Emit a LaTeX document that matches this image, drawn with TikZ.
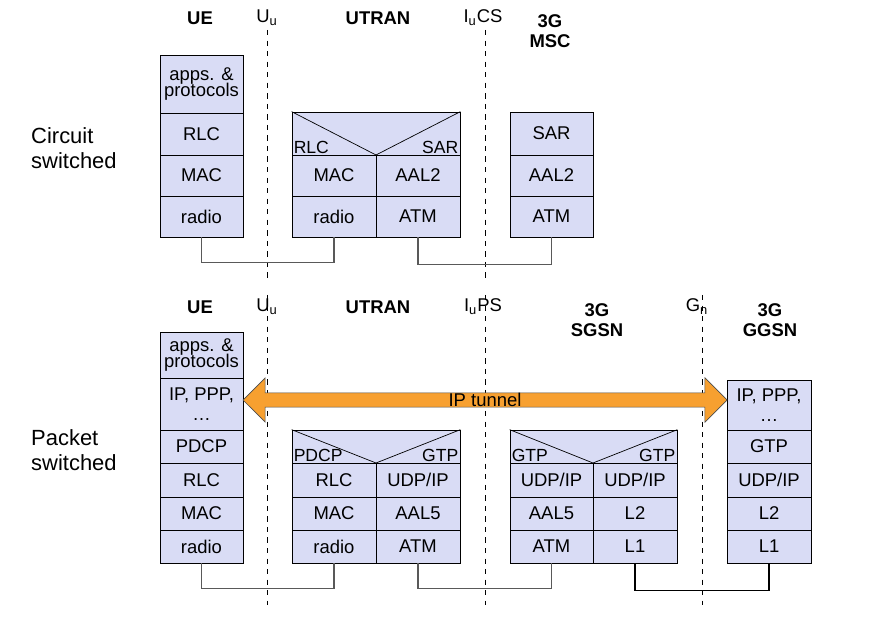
\documentclass[tikz,border=0pt]{standalone}
\usepackage{fontspec}
\setmainfont{Liberation Sans}
\usetikzlibrary{arrows.meta,shapes.arrows}
\definecolor{stackfill}{RGB}{217,220,245}
\definecolor{tunnel}{RGB}{247,160,48}
\tikzset{
  cell/.style={draw,fill=stackfill,inner sep=0pt,font=\fontsize{10.5}{11}\selectfont,align=center},
  head/.style={font=\fontsize{10.5}{11}\selectfont\bfseries,align=center},
  iface/.style={font=\fontsize{10.5}{11}\selectfont},
  side/.style={font=\fontsize{12.5}{14}\selectfont,align=left,anchor=west},
  sub/.style={font=\fontsize{10}{11}\selectfont,inner sep=1pt},
  boundary/.style={dashed,thin},
  link/.style={gray!70!black,semithick},
  blink/.style={black,semithick}
}
% one layer of a stack: name, x1, y1, x2, y2, text
\newcommand{\lay}[6]{%
  \node[cell,minimum width={(#4-#2)*0.02cm},minimum height={(#5-#3)*0.02cm}] (#1) at ({(#2+#4)/2},{(#3+#5)/2}) {#6};}
% split header: name, x1, y1, x2, y2, xmid, left, right
\newcommand{\hdr}[8]{%
  \lay{#1}{#2}{#3}{#4}{#5}{}
  \coordinate (#1m) at (#6,#5);
  \draw (#1.north west) -- (#1m) -- (#1.north east);
  \node[sub,anchor=south west] at (#1.south west) {#7};
  \node[sub,anchor=south east] at (#1.south east) {#8};}
\begin{document}
\begin{tikzpicture}[x=0.02cm,y=-0.02cm]
\useasboundingbox (0,0) rectangle (875,621);
% circuit switched
\node[side] (cs) at (25,148) {Circuit\\switched};
\node[head] at (200,18) {UE};
\node[iface] at (267,18) {U$_\mathrm{u}$};
\node[head] at (378,18) {UTRAN};
\node[iface] at (483,18) {I$_\mathrm{u}$CS};
\node[head] at (550,31) {3G\\MSC};
\draw[boundary] (267,30) -- (267,280);
\draw[boundary] (485,30) -- (485,280);
\lay{ueA}{160}{55}{243}{113}{apps. \&\\[-2pt]protocols}
\lay{ueRLC}{160}{113}{243}{155}{RLC}
\lay{ueMAC}{160}{155}{243}{196}{MAC}
\lay{ueRad}{160}{196}{243}{237}{radio}
\hdr{utH}{292}{112}{460}{155}{376}{RLC}{SAR}
\lay{utMAC}{292}{155}{376}{196}{MAC}
\lay{utAAL}{376}{155}{460}{196}{AAL2}
\lay{utRad}{292}{196}{376}{237}{radio}
\lay{utATM}{376}{196}{460}{237}{ATM}
\lay{msSAR}{510}{112}{593}{155}{SAR}
\lay{msAAL}{510}{155}{593}{196}{AAL2}
\lay{msATM}{510}{196}{593}{237}{ATM}
\draw[link] (ueRad.south) -- ++(0,25) -| (utRad.south);
\draw[link] (utATM.south) -- ++(0,27) -| (msATM.south);
% packet switched
\node[side] (ps) at (25,450) {Packet\\switched};
\node[head] at (200,307) {UE};
\node[iface] at (267,307) {U$_\mathrm{u}$};
\node[head] at (378,307) {UTRAN};
\node[iface] at (483,307) {I$_\mathrm{u}$PS};
\node[head] at (597,320) {3G\\SGSN};
\node[iface] at (697,307) {G$_\mathrm{n}$};
\node[head] at (770,320) {3G\\GGSN};
\draw[boundary] (267,295) -- (267,605);
\draw[boundary] (485,295) -- (485,605);
\draw[boundary] (702,295) -- (702,605);
\lay{pueA}{160}{332}{243}{378}{apps. \&\\[-2pt]protocols}
\lay{pueIP}{160}{378}{243}{430}{IP, PPP,\\\dots}
\lay{puePD}{160}{430}{243}{463}{PDCP}
\lay{pueRLC}{160}{463}{243}{497}{RLC}
\lay{pueMAC}{160}{497}{243}{530}{MAC}
\lay{pueRad}{160}{530}{243}{563}{radio}
\hdr{putH}{292}{430}{460}{463}{376}{PDCP}{GTP}
\lay{putRLC}{292}{463}{376}{497}{RLC}
\lay{putUDP}{376}{463}{460}{497}{UDP/IP}
\lay{putMAC}{292}{497}{376}{530}{MAC}
\lay{putAAL}{376}{497}{460}{530}{AAL5}
\lay{putRad}{292}{530}{376}{563}{radio}
\lay{putATM}{376}{530}{460}{563}{ATM}
\hdr{sgH}{510}{430}{677}{463}{593}{GTP}{GTP}
\lay{sgUDPa}{510}{463}{593}{497}{UDP/IP}
\lay{sgUDPb}{593}{463}{677}{497}{UDP/IP}
\lay{sgAAL}{510}{497}{593}{530}{AAL5}
\lay{sgL2}{593}{497}{677}{530}{L2}
\lay{sgATM}{510}{530}{593}{563}{ATM}
\lay{sgL1}{593}{530}{677}{563}{L1}
\lay{ggIP}{727}{380}{811}{430}{IP, PPP,\\\dots}
\lay{ggGTP}{727}{430}{811}{463}{GTP}
\lay{ggUDP}{727}{463}{811}{497}{UDP/IP}
\lay{ggL2}{727}{497}{811}{530}{L2}
\lay{ggL1}{727}{530}{811}{563}{L1}
\draw[link] (pueRad.south) -- ++(0,25) -| (putRad.south);
\draw[link] (putATM.south) -- ++(0,25) -| (sgATM.south);
\draw[blink] (sgL1.south) -- ++(0,27) -| (ggL1.south);
% IP tunnel
\node[draw=black!70,fill=tunnel,double arrow,double arrow head extend=0.3cm,
  minimum height={(727-243)*0.02cm},minimum width=0.5cm,inner sep=0pt,
  font=\fontsize{10.5}{11}\selectfont] (tun) at (485,400) {IP tunnel};
\end{tikzpicture}
\end{document}
